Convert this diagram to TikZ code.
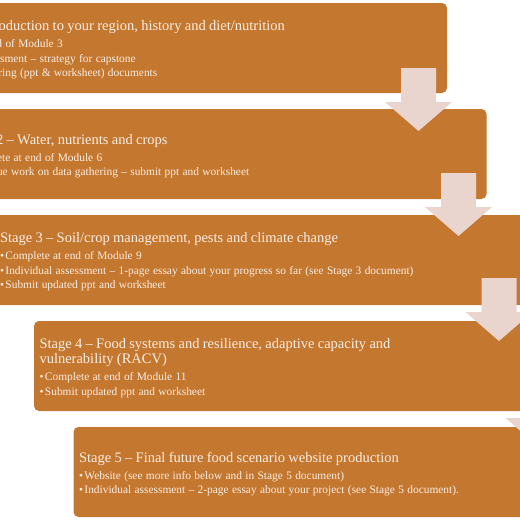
\documentclass[tikz,border=0pt]{standalone}
\usepackage{fontspec}
\setmainfont{Liberation Serif}
\usepackage{xcolor}
\usepackage{tikz}
\usetikzlibrary{positioning}

\definecolor{stagefill}{HTML}{C4772F}
\definecolor{stagetext}{HTML}{FBEEE4}
\definecolor{arrowfill}{HTML}{E9D5CD}

\newcommand{\stagetitle}[1]{{\fontsize{14.5}{15.5}\selectfont #1\par}\vspace{2.5pt}}
\newcommand{\stageitem}[1]{{\fontsize{11.4}{14.5}\selectfont\textbullet\hspace{1.5pt}#1\par}}

\begin{document}
\begin{tikzpicture}[
    x=1pt, y=-1pt,
    stagebox/.style={rectangle, rounded corners=5pt, fill=stagefill, text=stagetext,
        minimum width=531.5pt, minimum height=90pt, inner xsep=5.5pt, inner ysep=0pt,
        text width=520.5pt, align=left, execute at end node={\endgraf\vspace{-4pt}}},
    steparrow/.pic={\fill[arrowfill] (-17.5,0) -- (17.5,0) -- (17.5,34) -- (33.5,34)
        -- (0,63) -- (-33.5,34) -- (-17.5,34) -- cycle;}
]
    \useasboundingbox (0,0) rectangle (520,520);
    \clip (0,0) rectangle (520,520);

    % Stages
    \node[stagebox] (stage1) at (181.25,48) {%
        \stagetitle{Stage 1 – Introduction to your region, history and diet/nutrition}
        \stageitem{Complete at end of Module 3}
        \stageitem{Individual assessment – strategy for capstone}
        \stageitem{Start data gathering (ppt \& worksheet) documents}};
    \node[stagebox] (stage2) at (220.75,154) {%
        \stagetitle{Stage 2 – Water, nutrients and crops}
        \stageitem{Complete at end of Module 6}
        \stageitem{Continue work on data gathering – submit ppt and worksheet}};
    \node[stagebox] (stage3) at (260.25,260) {%
        \stagetitle{Stage 3 – Soil/crop management, pests and climate change}
        \stageitem{Complete at end of Module 9}
        \stageitem{Individual assessment – 1-page essay about your progress so far (see Stage 3 document)}
        \stageitem{Submit updated ppt and worksheet}};
    \node[stagebox] (stage4) at (299.75,366) {%
        \stagetitle{Stage 4 – Food systems and resilience, adaptive capacity and\\vulnerability (RACV)}
        \stageitem{Complete at end of Module 11}
        \stageitem{Submit updated ppt and worksheet}};
    \node[stagebox] (stage5) at (339.25,472) {%
        \stagetitle{Stage 5 – Final future food scenario website production}
        \stageitem{Website (see more info below and in Stage 5 document)}
        \stageitem{Individual assessment – 2-page essay about your project (see Stage 5 document).}};

    % Arrows
    \pic at (418.5,68) {steparrow};
    \pic at (458.5,173) {steparrow};
    \pic at (499,278) {steparrow};
    \pic at (539,384) {steparrow};
\end{tikzpicture}
\end{document}
